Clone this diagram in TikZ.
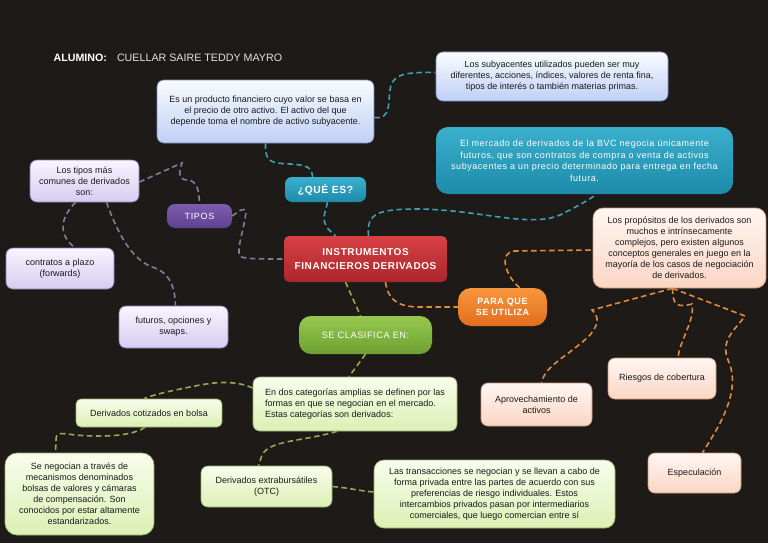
\documentclass[tikz,border=0pt]{standalone}
\usepackage{fontspec}
\setmainfont{Liberation Sans}
\newfontfamily\spaced[LetterSpace=6]{Liberation Sans}
\newfontfamily\spacedb[LetterSpace=8]{Liberation Sans}
\usetikzlibrary{shadings}
\definecolor{bg}{RGB}{30,26,23}
\definecolor{tealA}{RGB}{58,176,205}
\definecolor{tealB}{RGB}{30,138,170}
\definecolor{tealL}{RGB}{60,160,185}
\definecolor{lbA}{RGB}{250,252,255}
\definecolor{lbB}{RGB}{190,208,245}
\definecolor{lbD}{RGB}{120,140,185}
\definecolor{lvA}{RGB}{248,245,255}
\definecolor{lvB}{RGB}{215,204,240}
\definecolor{lvD}{RGB}{140,125,180}
\definecolor{purA}{RGB}{125,92,175}
\definecolor{purB}{RGB}{95,65,145}
\definecolor{purL}{RGB}{135,122,160}
\definecolor{redA}{RGB}{215,65,68}
\definecolor{redB}{RGB}{170,38,44}
\definecolor{orA}{RGB}{248,150,60}
\definecolor{orB}{RGB}{225,110,30}
\definecolor{orL}{RGB}{225,140,60}
\definecolor{peA}{RGB}{255,246,242}
\definecolor{peB}{RGB}{250,214,196}
\definecolor{peD}{RGB}{205,150,120}
\definecolor{grA}{RGB}{150,200,80}
\definecolor{grB}{RGB}{110,160,50}
\definecolor{grL}{RGB}{150,170,80}
\definecolor{lgA}{RGB}{248,253,236}
\definecolor{lgB}{RGB}{220,240,180}
\definecolor{lgD}{RGB}{150,175,110}
\definecolor{txt}{RGB}{25,25,25}
\tikzset{
  box/.style={rounded corners=7pt, draw, line width=0.7pt, align=center, inner sep=2pt,
    text=txt, font=\fontsize{9}{11}\selectfont},
  lbbox/.style={box, draw=lbD, top color=lbA, bottom color=lbB},
  lvbox/.style={box, draw=lvD, top color=lvA, bottom color=lvB},
  pebox/.style={box, draw=peD, top color=peA, bottom color=peB},
  lgbox/.style={box, draw=lgD, top color=lgA, bottom color=lgB},
  hdr/.style={rounded corners=9pt, draw=none, align=center, inner sep=2pt, text=white},
  conn/.style={dash pattern=on 5.5pt off 3.5pt, line width=1.6pt},
  tealc/.style={conn, draw=tealL},
  purc/.style={conn, draw=purL},
  orc/.style={conn, draw=orL},
  grc/.style={conn, draw=grL},
}
\begin{document}
\begin{tikzpicture}[x=1pt,y=-1pt]
\fill[bg] (0,0) rectangle (768,543);
\useasboundingbox (0,0) rectangle (768,543);

\node[anchor=west, text=white, font=\fontsize{10.7}{12}\selectfont] (title) at (50,57.5)
  {\textbf{ALUMINO:}\hspace{10pt}{\color[RGB]{225,225,225}CUELLAR SAIRE TEDDY MAYRO}};

% nodes
\node[lbbox, minimum width=217, minimum height=63] (es) at (265.5,111.5)
  {Es un producto financiero cuyo valor se basa en\\ el precio de otro activo. El activo del que\\ depende toma el nombre de activo subyacente.};
\node[lbbox, minimum width=232, minimum height=49] (sub) at (552,76.5)
  {Los subyacentes utilizados pueden ser muy\\ diferentes, acciones, índices, valores de renta fina,\\ tipos de interés o también materias primas.};
\node[hdr, rounded corners=12pt, top color=tealA, bottom color=tealB, minimum width=297, minimum height=67,
  font=\fontsize{9}{11.5}\selectfont\spaced] (merc) at (584.5,160.5)
  {El mercado de derivados de la BVC negocia únicamente\\ futuros, que son contratos de compra o venta de activos\\ subyacentes a un precio determinado para entrega en fecha\\ futura.};
\node[hdr, rounded corners=7pt, top color=tealA, bottom color=tealB, minimum width=81, minimum height=25,
  font=\fontsize{10.3}{12}\selectfont\bfseries\spaced] (que) at (325.5,189.5) {¿QUÉ ES?};
\node[lvbox, minimum width=109, minimum height=42] (tiposc) at (84.5,181)
  {Los tipos más\\ comunes de derivados\\ son:};
\node[hdr, rounded corners=8pt, top color=purA, bottom color=purB, minimum width=65, minimum height=24,
  font=\fontsize{9}{11}\selectfont\spacedb] (tipos) at (199.5,216) {TIPOS};
\node[lvbox, minimum width=108, minimum height=41] (contr) at (60,268.5)
  {contratos a plazo\\ (forwards)};
\node[lvbox, minimum width=109, minimum height=42] (fut) at (173.5,327)
  {futuros, opciones y\\ swaps.};
\node[hdr, rounded corners=5pt, top color=redA, bottom color=redB, minimum width=163, minimum height=46,
  font=\fontsize{10}{14}\selectfont\bfseries\spaced] (instr) at (365.5,259)
  {INSTRUMENTOS\\ FINANCIEROS DERIVADOS};
\node[hdr, rounded corners=13pt, top color=orA, bottom color=orB, minimum width=89, minimum height=38,
  font=\fontsize{9}{11}\selectfont\bfseries\spaced] (para) at (502.5,307)
  {PARA QUE\\ SE UTILIZA};
\node[pebox, rounded corners=10pt, minimum width=173, minimum height=80] (prop) at (679.5,248)
  {Los propósitos de los derivados son\\ muchos e intrínsecamente\\ complejos, pero existen algunos\\ conceptos generales en juego en la\\ mayoría de los casos de negociación\\ de derivados.};
\node[hdr, rounded corners=12pt, top color=grA, bottom color=grB, minimum width=133, minimum height=38,
  font=\fontsize{9.2}{11}\selectfont\spaced] (clas) at (365.5,335) {SE CLASIFICA EN:};
\node[pebox, minimum width=111, minimum height=43] (aprov) at (536.5,404.5)
  {Aprovechamiento de\\ activos};
\node[pebox, minimum width=108, minimum height=41] (ries) at (662,378.5)
  {Riesgos de cobertura};
\node[pebox, minimum width=93, minimum height=40] (esp) at (694.5,473)
  {Especulación};
\node[lgbox, rounded corners=5pt, minimum width=146, minimum height=28] (coti) at (149,413)
  {Derivados cotizados en bolsa};
\node[lgbox, align=left, minimum width=204, minimum height=54] (dos) at (355,404)
  {En dos categorías amplias se definen por las\\ formas en que se negocian en el mercado.\\ Estas categorías son derivados:};
\node[lgbox, rounded corners=12pt, minimum width=149, minimum height=82] (seneg) at (79.5,494)
  {Se negocian a través de\\ mecanismos denominados\\ bolsas de valores y cámaras\\ de compensación. Son\\ conocidos por estar altamente\\ estandarizados.};
\node[lgbox, minimum width=131, minimum height=41] (otc) at (266.5,486.5)
  {Derivados extrabursátiles\\ (OTC)};
\node[lgbox, rounded corners=10pt, minimum width=241, minimum height=68] (trans) at (494.5,494)
  {Las transacciones se negocian y se llevan a cabo de\\ forma privada entre las partes de acuerdo con sus\\ preferencias de riesgo individuales. Estos\\ intercambios privados pasan por intermediarios\\ comerciales, que luego comercian entre sí};

% connectors (teal)
\draw[tealc] ([yshift=-6pt]es.east) .. controls (392,120) and (388,100) .. (390,90)
  .. controls (392,74) and (405,72) .. ([yshift=4pt]sub.west);
\draw[tealc] (es.south) .. controls (265,162) and (270,163) .. (290,164)
  .. controls (308,165) and (312,168) .. ([xshift=-13pt]que.north);
\draw[tealc] ([xshift=2pt]que.south) .. controls (325,215) and (318,222) .. ([xshift=-30pt]instr.north);
\draw[tealc] ([xshift=3pt]instr.north) .. controls (366,212) and (380,209) .. (420,209)
  .. controls (480,210) and (530,228) .. (560,215)
  .. controls (580,205) and (592,198) .. ([xshift=12pt]merc.south);
% purple
\draw[purc] ([yshift=-1pt]tiposc.east) -- (182,163) .. controls (180,170) and (176,180) .. (188,180)
  .. controls (197,181) and (199,190) .. (tipos.north);
\draw[purc] (tipos.east) .. controls (238,212) and (244,206) .. (246,212)
  .. controls (244,230) and (236,250) .. (240,256) .. controls (242,259) and (260,259) .. (instr.west);
\draw[purc] ([xshift=-9pt]tiposc.south) .. controls (60,218) and (58,235) .. ([xshift=15pt]contr.north);
\draw[purc] ([xshift=22pt]tiposc.south) .. controls (120,240) and (135,262) .. (155,268)
  .. controls (172,275) and (175,290) .. ([xshift=2pt]fut.north);
% orange
\draw[orc] ([xshift=20pt]instr.south) .. controls (388,300) and (398,307) .. (420,307) -- (para.west);
\draw[orc] ([xshift=17pt]para.north) .. controls (505,275) and (498,252) .. (515,251) -- ([yshift=-2pt]prop.west);
\draw[orc] ([xshift=-7pt]prop.south) -- (592,310) .. controls (600,318) and (598,325) .. (590,335)
  .. controls (570,355) and (545,365) .. ([xshift=5pt]aprov.north);
\draw[orc] ([xshift=-7pt]prop.south) .. controls (673,305) and (676,308) .. (692,304)
  .. controls (695,320) and (680,340) .. ([xshift=16pt]ries.north);
\draw[orc] ([xshift=-7pt]prop.south) -- (745,316) .. controls (735,330) and (720,340) .. (728,360)
  .. controls (742,390) and (720,425) .. ([xshift=8pt]esp.north);
% green
\draw[grc] ([xshift=-20pt]instr.south) -- ([xshift=-5pt]clas.north);
\draw[grc] (clas.south) -- ([xshift=-6pt]dos.north);
\draw[grc] ([yshift=16pt]dos.west) .. controls (235,380) and (215,382) .. (195,386)
  .. controls (175,390) and (155,394) .. ([xshift=-5pt]coti.north);
\draw[grc] ([xshift=-4pt]coti.south) .. controls (130,437) and (100,437) .. (75,435)
  .. controls (60,433) and (56,432) .. (56,440) -- ([xshift=-24pt]seneg.north);
\draw[grc] ([xshift=-18pt]dos.south) .. controls (300,442) and (270,440) .. (262,455) -- ([xshift=-8pt]otc.north);
\draw[grc] (otc.east) .. controls (350,488) and (360,491) .. ([yshift=2pt]trans.west);
\end{tikzpicture}
\end{document}
